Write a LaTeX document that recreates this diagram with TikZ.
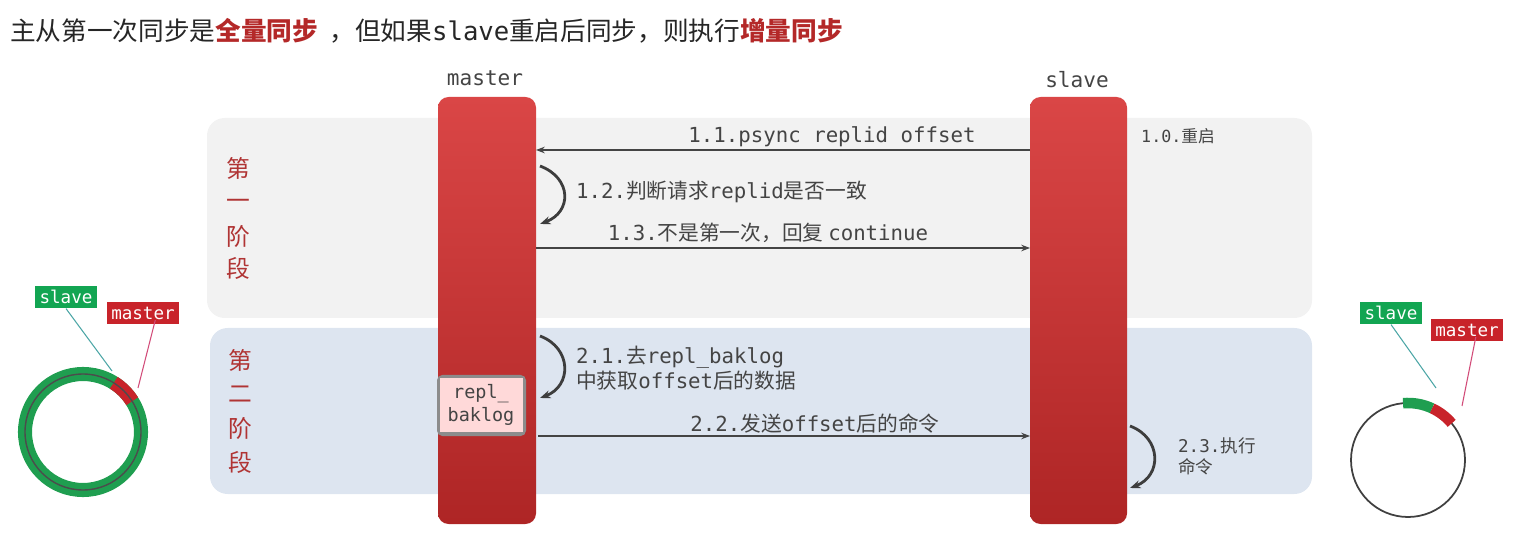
\documentclass[tikz,border=0pt]{standalone}
\usepackage{fontspec}
\setmainfont{Noto Sans CJK SC}
\newfontfamily\mono{DejaVu Sans Mono}
\usetikzlibrary{arrows.meta,shadows}
\definecolor{barA}{HTML}{DA4646}
\definecolor{barB}{HTML}{AE2525}
\definecolor{tred}{HTML}{B42828}
\definecolor{stage}{HTML}{B03434}
\definecolor{gpanel}{HTML}{F2F2F2}
\definecolor{bpanel}{HTML}{DDE5F0}
\definecolor{ring}{HTML}{1F9E50}
\definecolor{txt}{HTML}{444444}
\definecolor{lbgreen}{HTML}{12A552}
\definecolor{lbred}{HTML}{C8232A}
\begin{document}
\begin{tikzpicture}[x=0.02cm,y=-0.02cm,
  bar/.style={rounded corners=6pt,top color=barA,bottom color=barB,draw=none},
  msg/.style={-{Stealth[length=5pt]},draw=txt,line width=0.6pt},
  lbl/.style={text=txt,font=\fontsize{11.8}{14}\selectfont,inner sep=1pt},
  stg/.style={text=stage,font=\fontsize{13.5}{14}\selectfont},
  loopa/.style={-{Stealth[length=6pt]},draw=txt!90!black,line width=1.6pt},
  tag/.style={text=white,font=\mono\fontsize{10}{10}\selectfont,inner sep=2.5pt,minimum height=0.42cm}]
\useasboundingbox (0,0) rectangle (1520,543);
\node[anchor=west,font=\fontsize{14.6}{16}\selectfont,text=black!85] (title) at (4,31)
  {主从第一次同步是\textcolor{tred}{\bfseries 全量同步}\ \ ，但如果{\mono slave}重启后同步，则执行\textcolor{tred}{\bfseries 增量同步}};
\fill[gpanel,rounded corners=10pt] (207,118) rectangle (1312,318);
\fill[bpanel,rounded corners=10pt] (210,328) rectangle (1312,494);
\path[bar] (438,97) rectangle (536,524);
\path[bar] (1030,97) rectangle (1127,524);
\node[font=\mono\fontsize{12}{12}\selectfont,text=txt] (mlab) at (485,78) {master};
\node[font=\mono\fontsize{12}{12}\selectfont,text=txt] (slab) at (1077,80) {slave};
\coordinate (a1s) at (1030,150); \coordinate (a1m) at (536,150);
\draw[msg] (a1s) -- (a1m);
\node[lbl] (t11) at (832,137) {\mono 1.1.psync replid offset};
\node[lbl,font=\fontsize{9.5}{10}\selectfont] (t10) at (1178,136) {{\mono 1.0.}重启};
\coordinate (c1a) at (540,166); \coordinate (c1b) at (540,224);
\draw[loopa] (c1a) .. controls (572,178) and (572,212) .. (c1b);
\node[lbl,anchor=west] (t12) at (574,192) {{\mono 1.2.}判断请求{\mono replid}是否一致};
\coordinate (a3m) at (536,248); \coordinate (a3s) at (1030,248);
\draw[msg] (a3m) -- (a3s);
\node[lbl] (t13) at (768,233) {{\mono 1.3.}不是第一次，回复 {\mono continue}};
\node[stg] (s1a) at (238,168) {第}; \node[stg] (s1b) at (238,204) {一};
\node[stg] (s1c) at (238,236) {阶}; \node[stg] (s1d) at (238,268) {段};
\node[stg] (s2a) at (240,360) {第}; \node[stg] (s2b) at (240,394) {二};
\node[stg] (s2c) at (240,428) {阶}; \node[stg] (s2d) at (240,462) {段};
\coordinate (c2a) at (540,336); \coordinate (c2b) at (540,398);
\draw[loopa] (c2a) .. controls (572,348) and (572,386) .. (c2b);
\node[lbl,anchor=west,align=left] (t21) at (574,368) {{\mono 2.1.}去{\mono repl\_baklog}\\中获取{\mono offset}后的数据};
\fill[black!45,rounded corners=3pt] (437,375) rectangle (526,436);
\node[fill=red!15!white,draw=none,minimum width=1.66cm,minimum height=1.1cm,align=center,
  text=txt,font=\mono\fontsize{10.5}{13}\selectfont,inner sep=1pt] (rb) at (481,405) {repl\_\\baklog};
\coordinate (a2m) at (538,436); \coordinate (a2s) at (1030,436);
\draw[msg] (a2m) -- (a2s);
\node[lbl] (t22) at (815,424) {{\mono 2.2.}发送{\mono offset}后的命令};
\coordinate (c3a) at (1130,426); \coordinate (c3b) at (1130,488);
\draw[loopa] (c3a) .. controls (1162,438) and (1162,476) .. (c3b);
\node[lbl,anchor=west,align=left,font=\fontsize{10}{12}\selectfont] (t23) at (1176,456) {{\mono 2.3.}执行\\命令};
% left ring
\coordinate (lc) at (83,432);
\draw[ring,line width=8pt] (lc) circle (58);
\draw[lbred,line width=8pt] ([shift={(-32:58)}]lc) arc[start angle=-32,end angle=-58,radius=58];
\draw[black!70,line width=0.8pt] (lc) circle (58);
\node[tag,fill=lbgreen] (lsl) at (66,297) {slave};
\node[tag,fill=lbred] (lma) at (143,313) {master};
\coordinate (lp1) at (112,371); \coordinate (lp2) at (138,388);
\draw[teal!70,line width=0.6pt] (lsl.south) -- (lp1);
\draw[purple!70,line width=0.6pt] ([xshift=7pt]lma.south) ++(0,-4) -- (lp2);
% right ring
\coordinate (rc) at (1408,460);
\draw[black!75,line width=1pt] (rc) circle (57);
\draw[ring,line width=6pt] ([shift={(-95:57)}]rc) arc[start angle=-95,end angle=-65,radius=57];
\draw[lbred,line width=6pt] ([shift={(-65:57)}]rc) arc[start angle=-65,end angle=-40,radius=57];
\node[tag,fill=lbgreen] (rsl) at (1391,313) {slave};
\node[tag,fill=lbred] (rma) at (1467,330) {master};
\coordinate (rp1) at (1436,388); \coordinate (rp2) at (1462,406);
\draw[teal!70,line width=0.6pt] (rsl.south) -- (rp1);
\draw[purple!70,line width=0.6pt] ([xshift=5pt]rma.south) ++(0,-4) -- (rp2);
\end{tikzpicture}
\end{document}
